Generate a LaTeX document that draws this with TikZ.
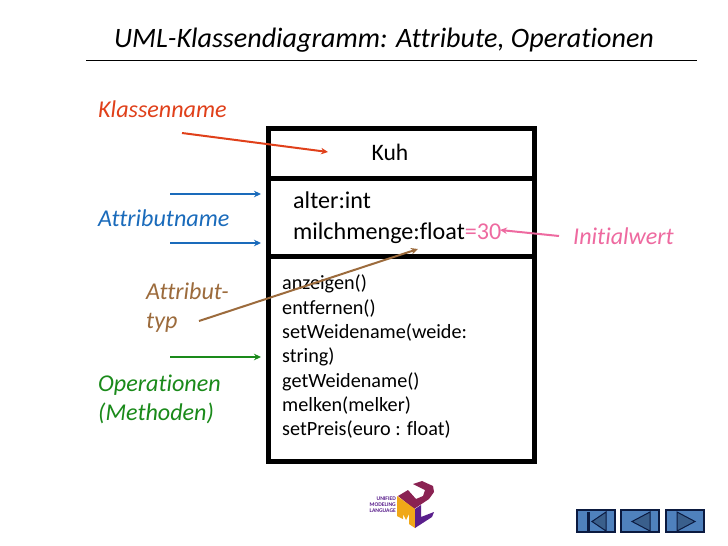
\documentclass[tikz,border=0pt]{standalone}
\usepackage{fontspec}
\setmainfont[Ligatures=NoCommon]{Carlito}
\definecolor{kname}{HTML}{E0401A}
\definecolor{aname}{HTML}{1A6BBB}
\definecolor{atyp}{HTML}{9C6B3C}
\definecolor{opgreen}{HTML}{1A8A1A}
\definecolor{initc}{HTML}{EE6AA0}
\definecolor{navfill}{HTML}{4F81BD}
\definecolor{navdark}{HTML}{3A5F8C}
\definecolor{navline}{HTML}{0B1A40}
\definecolor{umlpurple}{HTML}{5A1F8C}
\definecolor{umlmaroon}{HTML}{8A2252}
\definecolor{umlgold}{HTML}{F0A818}
\tikzset{
  x=1pt,y=-1pt,
  compartment/.style={draw=black,line width=5pt,fill=white,minimum width=266pt,inner sep=0pt,anchor=north west},
  labeltext/.style={font=\fontsize{24.1}{29}\selectfont\itshape,anchor=base west,inner sep=0pt,align=left},
  classtext/.style={font=\fontsize{24.1}{30}\selectfont,anchor=base west,inner sep=0pt,text=black},
  optext/.style={font=\fontsize{20.2}{24.33}\selectfont,anchor=north west,inner sep=0pt,align=left,text=black},
  pointer/.style={line width=2pt,-{Stealth[length=7pt,width=6.5pt]}},
  navbtn/.style={draw=navline,line width=1.2pt,fill=navfill,minimum width=38pt,minimum height=22pt,inner sep=0pt},
  navtri/.style={draw=navline,line width=1pt,fill=navdark,line join=miter},
}
\usetikzlibrary{arrows.meta}
\begin{document}
\begin{tikzpicture}
\useasboundingbox (0,0) rectangle (728,546);
\fill[white] (0,0) rectangle (728,546);
% title
\node[font=\fontsize{28.1}{30}\selectfont\itshape,anchor=base,inner sep=0pt] (title) at (384,47) {UML-Klassendiagramm: Attribute, Operationen};
\coordinate (ruleL) at (86,60); \coordinate (ruleR) at (697,60);
\draw[black,line width=.8pt] (ruleL) -- (ruleR);
% class box
\node[compartment,minimum height=50pt] (kuh) at (265.5,125.5) {};
\node[compartment,minimum height=78pt] (attr) at (265.5,175.5) {};
\node[compartment,minimum height=205pt] (ops) at (265.5,253.5) {};
\node[font=\fontsize{23.6}{24}\selectfont,anchor=base,inner sep=0pt] (kuhtext) at (390,160) {Kuh};
\node[classtext] (alter) at (293,208) {alter:int};
\node[classtext] (milch) at (293,239.5) {milchmenge:float\textcolor{initc}{=30}};
\node[optext] (optxt) at (282,275) {anzeigen()\\entfernen()\\setWeidename(weide:\\string)\\getWeidename()\\melken(melker)\\setPreis(euro : float)};
% labels
\node[labeltext,text=kname] (lk) at (98,117) {Klassenname};
\node[labeltext,text=aname] (la) at (98,226) {Attributname};
\node[labeltext,text=atyp] (lt) at (146,328) {Attribut-\\typ};
\node[labeltext,text=opgreen] (lo) at (98,420) {Operationen\\(Methoden)};
\node[labeltext,text=initc] (li) at (573,244) {Initialwert};
% connector ends
\coordinate (k0) at (182,133); \coordinate (k1) at (328,152);
\coordinate (a0) at (170,194); \coordinate (a1) at (261,194);
\coordinate (b0) at (170,243); \coordinate (b1) at (261,243);
\coordinate (t0) at (199,321); \coordinate (t1) at (418,249);
\coordinate (o0) at (170,357); \coordinate (o1) at (261,357);
\coordinate (i0) at (559,236); \coordinate (i1) at (500,230);
\draw[pointer,kname] (k0) -- (k1);
\draw[pointer,aname] (a0) -- (a1);
\draw[pointer,aname] (b0) -- (b1);
\draw[pointer,atyp] (t0) -- (t1);
\draw[pointer,opgreen] (o0) -- (o1);
\draw[pointer,initc] (i0) -- (i1);
% UML logo
\fill[umlmaroon] (398,496) -- (414,509) -- (429,499) -- (434,492) -- (433,486) -- (422,481) -- (413,484) -- (425,490) -- (423,496) -- (416,499) -- (408,490) -- cycle;
\fill[umlgold] (397,496) -- (415,509) -- (415,528) -- (409,524) -- (409,514) -- (406,520) -- (403,514) -- (403,519) -- (397,516) -- cycle;
\fill[umlpurple] (415,509) -- (421,505) -- (421,517) -- (434,512) -- (432,517) -- (415,528) -- cycle;
\node[font=\fontsize{5.6}{6.3}\selectfont\bfseries,text=umlpurple,align=right,inner sep=0pt,anchor=east] (logotext) at (396,504.5) {UNIFIED\\MODELING\\LANGUAGE};
% navigation
\node[navbtn] (nav1) at (596,521) {};
\node[navbtn] (nav2) at (640,521) {};
\node[navbtn] (nav3) at (685,521) {};
\fill[navline] (587,512) rectangle (590,531);
\draw[navtri] (606,512) -- (606,531) -- (592,521.5) -- cycle;
\draw[navtri] (650,512) -- (650,531) -- (632,521.5) -- cycle;
\draw[navtri] (677,512) -- (677,531) -- (695,521.5) -- cycle;
\end{tikzpicture}
\end{document}
